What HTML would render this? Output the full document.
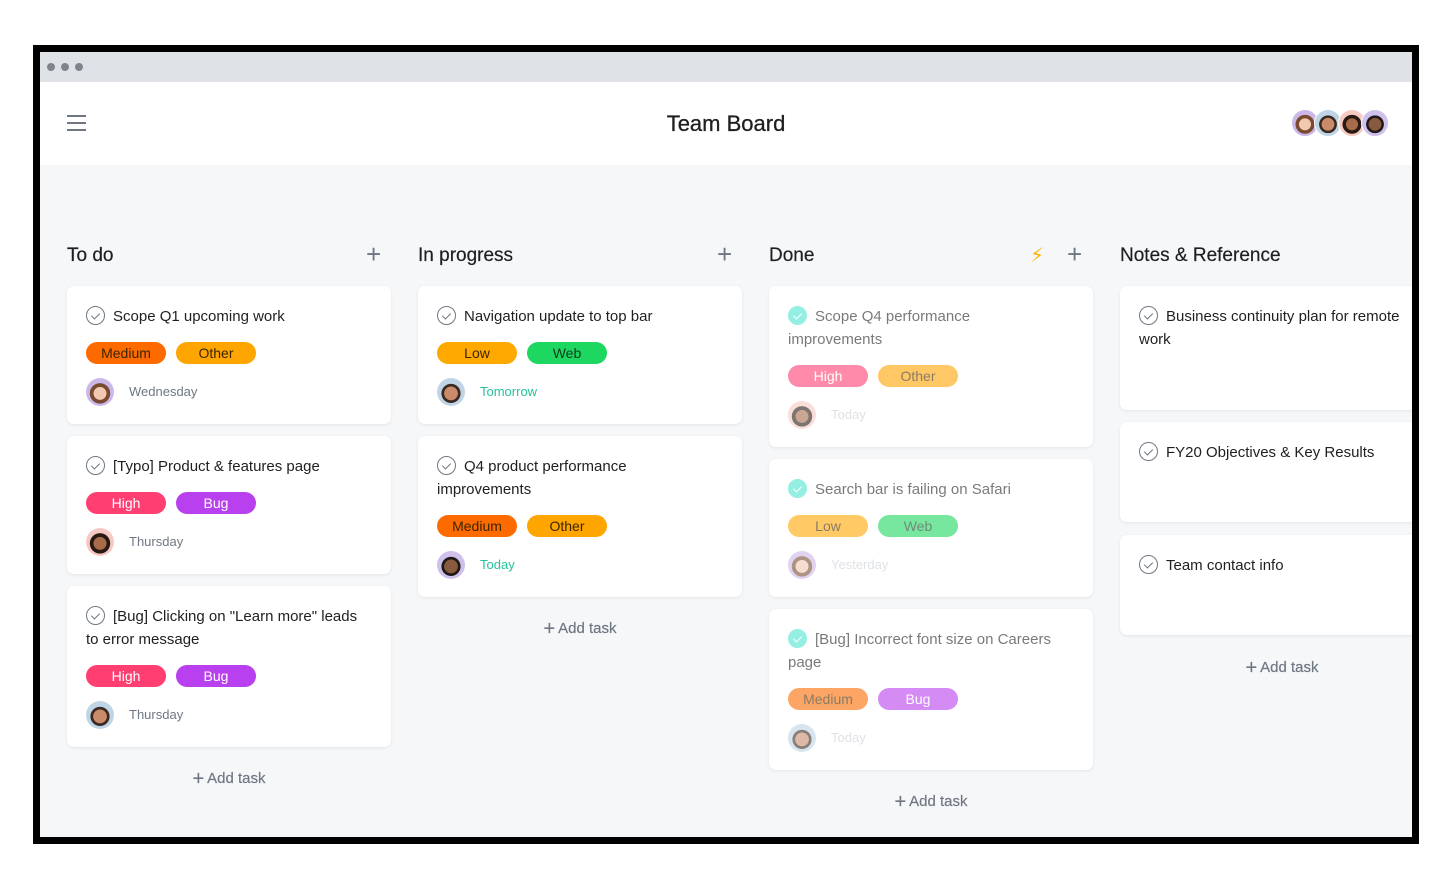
<!DOCTYPE html>
<html><head><meta charset="utf-8"><style>
*{box-sizing:border-box;margin:0;padding:0}
body{width:1452px;height:884px;background:#fff;font-family:"Liberation Sans",sans-serif;position:relative;overflow:hidden}
.frame{position:absolute;left:33px;top:45px;width:1386px;height:799px;background:#000}
.win{position:absolute;left:40px;top:52px;width:1372px;height:785px;background:#f5f7f9;overflow:hidden}
.bar{position:absolute;left:0;top:0;width:100%;height:30px;background:#dfe2e6}
.dot{position:absolute;top:11px;width:8px;height:8px;border-radius:50%;background:#7f858d}
.hdr{position:absolute;left:0;top:30px;width:100%;height:83px;background:#fff}
.title{position:absolute;left:0;width:100%;top:30px;text-align:center;font-size:22px;color:#1e1f21;line-height:24px;-webkit-text-stroke:0.3px #1e1f21}
.ham{position:absolute;left:27px;width:19px;height:1.5px;background:#6f7782}
.av{position:absolute;width:28px;height:28px;border-radius:50%;border:1.5px solid #fff}
.ch{position:absolute;top:192px;font-size:19px;color:#1e1f21;line-height:24px;-webkit-text-stroke:0.2px #1e1f21}
.plus{position:absolute;top:188px;font-size:26px;color:#6f7782;line-height:28px;font-weight:300}
.card{position:absolute;width:324px;background:#fff;border-radius:7px;box-shadow:0 1px 3px rgba(0,0,0,.08);padding:19px 18px 18px 19px}
.t{font-size:15px;line-height:23px;color:#1e1f21}
.ck{display:inline-block;width:19px;height:19px;border:1.3px solid #6f7782;border-radius:50%;vertical-align:-4px;margin-right:8px;position:relative}
.ck:after{content:"";position:absolute;left:5.5px;top:3.5px;width:4px;height:7px;border:solid #6f7782;border-width:0 1.3px 1.3px 0;transform:rotate(45deg)}
.ck.done{background:#4ee5cf;border-color:#4ee5cf}
.ck.done:after{border-color:#fff}
.tags{margin-top:14px;height:22px}
.tag{display:inline-block;width:80px;height:22px;border-radius:11px;text-align:center;font-size:14px;line-height:22px;margin-right:10px;color:#3a2500;vertical-align:top}
.med{background:#fd6b00}.oth{background:#ffa500}.low{background:#ffa800}.web{background:#1ed760;color:#0d3d1d}
.hi{background:#ff3e72;color:#fff}.bug{background:#b840ee;color:#fff}
.ft{margin-top:14px;height:28px;position:relative}
.ft .av{position:relative;display:inline-block;border:none;vertical-align:middle}
.d{position:absolute;left:43px;top:6px;font-size:13px;color:#6f7782}
.d.g{color:#25c29a}
.fade > *{opacity:.6}
.fade .d{color:#c9ced4}
.add{position:absolute;font-size:15px;color:#6f7782;width:324px;text-align:center;-webkit-text-stroke:0.2px #6f7782}
.add b{font-size:20px;font-weight:400;vertical-align:-2px;margin-right:3px}
.a1{background:radial-gradient(circle at 50% 55%,#f0c9b0 30%,#7a4a30 32%,#7a4a30 48%,#cbb7e8 50%)}
.a2{background:radial-gradient(circle at 50% 55%,#c98b6a 32%,#3a2a22 34%,#3a2a22 45%,#bfd4e4 47%)}
.a3{background:radial-gradient(circle at 50% 55%,#a96c4a 30%,#2a1a14 32%,#2a1a14 48%,#f7c9c3 50%)}
.a4{background:radial-gradient(circle at 50% 55%,#8a5a40 32%,#1e1a18 34%,#1e1a18 45%,#cfc0ec 47%)}
</style></head><body>
<div class="frame"></div>
<div class="win">
 <div class="bar"><div class="dot" style="left:7px"></div><div class="dot" style="left:21px"></div><div class="dot" style="left:35px"></div></div>
 <div class="hdr">
  <div class="ham" style="top:33px"></div><div class="ham" style="top:40px"></div><div class="ham" style="top:47px"></div>
  <div class="title">Team Board</div>
  <div class="av a1" style="left:1251px;top:27px"></div>
  <div class="av a2" style="left:1274px;top:27px"></div>
  <div class="av a3" style="left:1298px;top:27px"></div>
  <div class="av a4" style="left:1321px;top:27px"></div>
 </div>

 <div class="ch" style="left:27px">To do</div><div class="plus" style="left:326px">+</div>
 <div class="card" style="left:27px;top:234px"><div class="t"><span class="ck"></span>Scope Q1 upcoming work</div><div class="tags"><span class="tag med">Medium</span><span class="tag oth">Other</span></div><div class="ft"><span class="av a1"></span><span class="d">Wednesday</span></div></div>
 <div class="card" style="left:27px;top:384px"><div class="t"><span class="ck"></span>[Typo] Product &amp; features page</div><div class="tags"><span class="tag hi">High</span><span class="tag bug">Bug</span></div><div class="ft"><span class="av a3"></span><span class="d">Thursday</span></div></div>
 <div class="card" style="left:27px;top:534px"><div class="t"><span class="ck"></span>[Bug] Clicking on "Learn more" leads<br>to error message</div><div class="tags"><span class="tag hi">High</span><span class="tag bug">Bug</span></div><div class="ft"><span class="av a2"></span><span class="d">Thursday</span></div></div>
 <div class="add" style="left:27px;top:716px"><b>+</b>Add task</div>

 <div class="ch" style="left:378px">In progress</div><div class="plus" style="left:677px">+</div>
 <div class="card" style="left:378px;top:234px"><div class="t"><span class="ck"></span>Navigation update to top bar</div><div class="tags"><span class="tag low">Low</span><span class="tag web">Web</span></div><div class="ft"><span class="av a2"></span><span class="d g">Tomorrow</span></div></div>
 <div class="card" style="left:378px;top:384px"><div class="t"><span class="ck"></span>Q4 product performance<br>improvements</div><div class="tags"><span class="tag med">Medium</span><span class="tag oth">Other</span></div><div class="ft"><span class="av a4"></span><span class="d g">Today</span></div></div>
 <div class="add" style="left:378px;top:566px"><b>+</b>Add task</div>

 <div class="ch" style="left:729px">Done</div>
 <div style="position:absolute;left:990px;top:192px;font-size:20px;color:#fcb400;line-height:24px">&#9889;&#xFE0E;</div>
 <div class="plus" style="left:1027px">+</div>
 <div class="card fade" style="left:729px;top:234px"><div class="t"><span class="ck done"></span>Scope Q4 performance<br>improvements</div><div class="tags"><span class="tag hi">High</span><span class="tag oth">Other</span></div><div class="ft"><span class="av a3"></span><span class="d">Today</span></div></div>
 <div class="card fade" style="left:729px;top:407px"><div class="t"><span class="ck done"></span>Search bar is failing on Safari</div><div class="tags"><span class="tag low">Low</span><span class="tag web">Web</span></div><div class="ft"><span class="av a1"></span><span class="d">Yesterday</span></div></div>
 <div class="card fade" style="left:729px;top:557px"><div class="t"><span class="ck done"></span>[Bug] Incorrect font size on Careers<br>page</div><div class="tags"><span class="tag med">Medium</span><span class="tag bug">Bug</span></div><div class="ft"><span class="av a2"></span><span class="d">Today</span></div></div>
 <div class="add" style="left:729px;top:739px"><b>+</b>Add task</div>

 <div class="ch" style="left:1080px">Notes &amp; Reference</div>
 <div class="card" style="left:1080px;top:234px;height:124px;width:340px"><div class="t"><span class="ck"></span>Business continuity plan for remote<br>work</div></div>
 <div class="card" style="left:1080px;top:370px;height:100px;width:340px"><div class="t"><span class="ck"></span>FY20 Objectives &amp; Key Results</div></div>
 <div class="card" style="left:1080px;top:483px;height:100px;width:340px"><div class="t"><span class="ck"></span>Team contact info</div></div>
 <div class="add" style="left:1080px;top:605px"><b>+</b>Add task</div>
</div>
</body></html>
